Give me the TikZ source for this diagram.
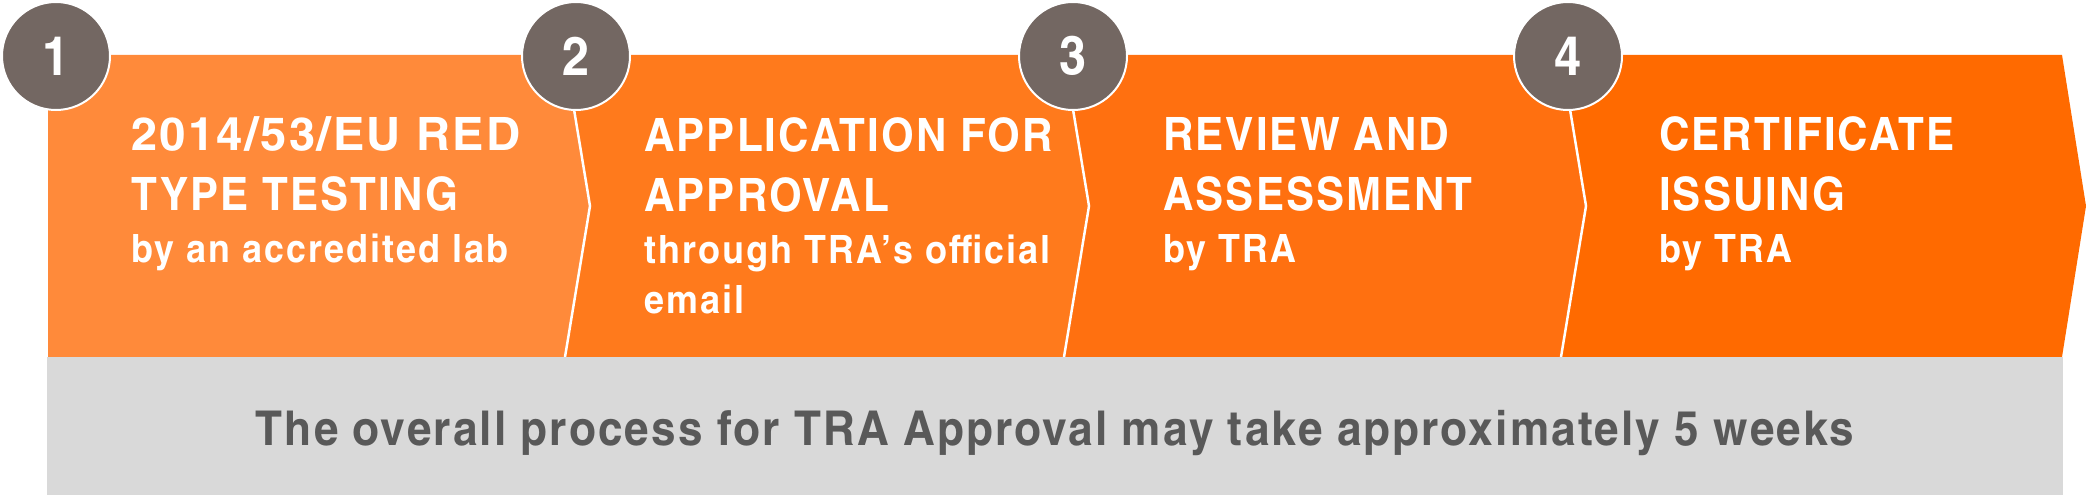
\documentclass[tikz,border=0pt]{standalone}
\usepackage{fontspec}
\newfontfamily\hfhead{texgyreheroscn-bold.otf}[FakeStretch=1.12,LetterSpace=4.4]
\newfontfamily\hfdigit{texgyreheroscn-bold.otf}[FakeStretch=1.25,LetterSpace=5]
\newfontfamily\hfsub{texgyreheroscn-bold.otf}[FakeStretch=1.12,LetterSpace=5.4]
\newfontfamily\hfnote{texgyreheroscn-bold.otf}[FakeStretch=1.12,LetterSpace=4.5]
\newfontfamily\hfnum{texgyreheroscn-bold.otf}[FakeStretch=1.1]
\definecolor{secA}{HTML}{FF8A3A}
\definecolor{secB}{HTML}{FF7A1C}
\definecolor{secC}{HTML}{FF7010}
\definecolor{secD}{HTML}{FF6A00}
\definecolor{band}{HTML}{D9D9D9}
\definecolor{bandtext}{HTML}{595959}
\definecolor{badge}{HTML}{736762}
\begin{document}
\begin{tikzpicture}[x=1pt,y=-1pt,
  head/.style={anchor=base west,inner sep=0pt,text=white,font=\hfhead\fontsize{46}{46}\selectfont},
  sub/.style={anchor=base west,inner sep=0pt,text=white,font=\hfsub\fontsize{39}{39}\selectfont},
  numbadge/.style={circle,minimum size=108pt,inner sep=0pt,fill=badge,draw=white,line width=2pt,text=white,font=\hfnum\fontsize{54}{54}\selectfont},
  sepline/.style={draw=white,line width=2.5pt}]
\useasboundingbox (0,0) rectangle (2090,495);
% sections
\fill[secA] (48,55) -- (565,55) -- (590,206) -- (565,357) -- (48,357) -- cycle;
\fill[secB] (565,55) -- (1064,55) -- (1089,206) -- (1064,357) -- (565,357) -- (590,206) -- cycle;
\fill[secC] (1064,55) -- (1561,55) -- (1586,206) -- (1561,357) -- (1064,357) -- (1089,206) -- cycle;
\fill[secD] (1561,55) -- (2062,55) -- (2086,206) -- (2062,357) -- (1561,357) -- (1586,206) -- cycle;
\path[sepline] (565,55) -- (590,206) -- (565,357);
\path[sepline] (1064,55) -- (1089,206) -- (1064,357);
\path[sepline] (1561,55) -- (1586,206) -- (1561,357);
% band
\fill[band] (47,357) rectangle (2063,495);
\node[anchor=base,inner sep=0pt,text=bandtext,font=\hfnote\fontsize{48}{48}\selectfont] (note) at (1055,445) {The overall process for TRA Approval may take approximately 5 weeks};
% badges
\node[numbadge] (n1) at (56,56) {1};
\node[numbadge] (n2) at (576,56) {2};
\node[numbadge] (n3) at (1073,56) {3};
\node[numbadge] (n4) at (1568,56) {4};
% texts
\node[head,font=\hfdigit\fontsize{46}{46}\selectfont] (h1a) at (131,150) {2014/53/EU RED};
\node[head] (h1b) at (131,210) {TYPE TESTING};
\node[sub] (s1a) at (131,262) {by an accredited lab};
\node[head] (h2a) at (644,151) {APPLICATION FOR};
\node[head] (h2b) at (644,211) {APPROVAL};
\node[sub] (s2a) at (644,263) {through TRA’s official};
\node[sub] (s2b) at (644,313) {email};
\node[head] (h3a) at (1163,150) {REVIEW AND};
\node[head] (h3b) at (1163,210) {ASSESSMENT};
\node[sub] (s3a) at (1163,262) {by TRA};
\node[head] (h4a) at (1659,150) {CERTIFICATE};
\node[head] (h4b) at (1659,210) {ISSUING};
\node[sub] (s4a) at (1659,262) {by TRA};
\end{tikzpicture}
\end{document}
